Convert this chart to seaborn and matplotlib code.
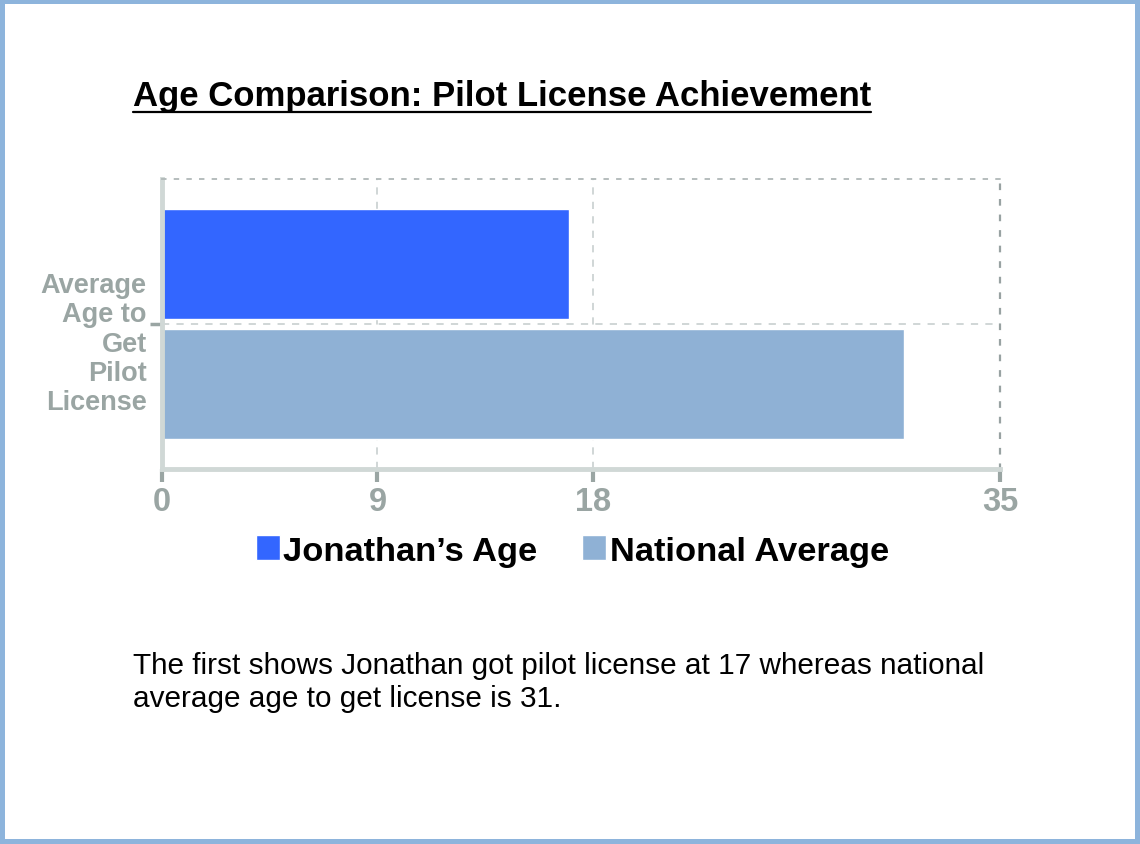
import numpy as np
import pandas as pd
import matplotlib.pyplot as plt
import matplotlib.transforms as mtransforms
from matplotlib.lines import Line2D
import seaborn as sns

# data
category = "Average\nAge to\nGet\nPilot\nLicense"
groups = ["Jonathan\u2019s Age", "National Average"]
ages = [17, 31]
xticks = [0, 9, 18, 35]
colors = ["#3366ff", "#8fb1d5"]

df = pd.DataFrame({"category": [category, category], "group": groups, "age": ages})

sns.set_theme(style="white")
plt.rcParams["font.family"] = ["Liberation Sans", "DejaVu Sans"]

fig = plt.figure(figsize=(11.4, 8.45), dpi=100)
fig.patch.set_edgecolor("#8db4dc")
fig.patch.set_linewidth(6)

ax = fig.add_axes([162 / 1140, 1 - 470 / 845, 838 / 1140, 290 / 845])
sns.barplot(data=df, y="category", x="age", hue="group", orient="h",
            palette=colors, width=0.8, gap=0.08, saturation=1, ax=ax)
ax.get_legend().remove()

ax.set_xlim(0, 35)
ax.set_ylim(0.483, -0.483)
ax.set_xticks(xticks)
ax.set_xlabel("")
ax.set_ylabel("")

# grid
for v in xticks[1:-1]:
    ax.axvline(v, color="#cdd3d3", lw=1.3, ls=(0, (4, 4)), zorder=0)
ax.axhline(0, color="#cdd3d3", lw=1.3, ls=(0, (4, 4)), zorder=0)

# spines
for s in ["left", "bottom"]:
    ax.spines[s].set_color("#d0d8d6")
    ax.spines[s].set_linewidth(3.5)
ax.spines["top"].set_color("#b0b8b8")
ax.spines["top"].set_linestyle((0, (2, 5)))
ax.spines["top"].set_linewidth(1.3)
ax.spines["right"].set_color("#98a2a2")
ax.spines["right"].set_linestyle((0, (2, 5)))
ax.spines["right"].set_linewidth(1.6)

ax.tick_params(axis="x", bottom=True, length=9, width=3, color="#9aa5a3",
               pad=3, labelsize=23.5, labelcolor="#9aa5a3")
ax.tick_params(axis="y", left=True, length=9, width=2.5, color="#9aa5a3",
               pad=2, labelsize=19.5, labelcolor="#9aa5a3")
for lab in ax.get_xticklabels():
    lab.set_fontweight("bold")
offset = mtransforms.ScaledTranslation(0, -0.15, fig.dpi_scale_trans)
for lab in ax.get_yticklabels():
    lab.set_fontweight("bold")
    lab.set_multialignment("right")
    lab.set_linespacing(1.17)
    lab.set_transform(lab.get_transform() + offset)

# title with underline
title = fig.text(133 / 1140, 1 - 106 / 845, "Age Comparison: Pilot License Achievement",
                 fontsize=25, fontweight="bold", color="black", va="baseline", ha="left")
fig.canvas.draw()
bb = title.get_window_extent().transformed(fig.transFigure.inverted())
uy = 1 - 113 / 845
fig.add_artist(Line2D([bb.x0, bb.x1], [uy, uy], transform=fig.transFigure,
                      color="black", lw=1.6))

# legend
handles, labels = ax.get_legend_handles_labels()
leg = fig.legend(handles, labels, loc="center", bbox_to_anchor=(0.502, 1 - 552 / 845),
                 ncol=2, frameon=False, handlelength=0.7, handleheight=0.7,
                 handletextpad=0.1, columnspacing=1.3,
                 prop={"size": 24.8, "weight": "bold"})
for t in leg.get_texts():
    t.set_color("black")

# caption
fig.text(133 / 1140, 1 - 652 / 845,
         "The first shows Jonathan got pilot license at 17 whereas national\n"
         "average age to get license is 31.",
         fontsize=21.4, color="black", va="top", ha="left", linespacing=1.22)

fig.savefig("out.png", dpi=100, edgecolor=fig.get_edgecolor())
